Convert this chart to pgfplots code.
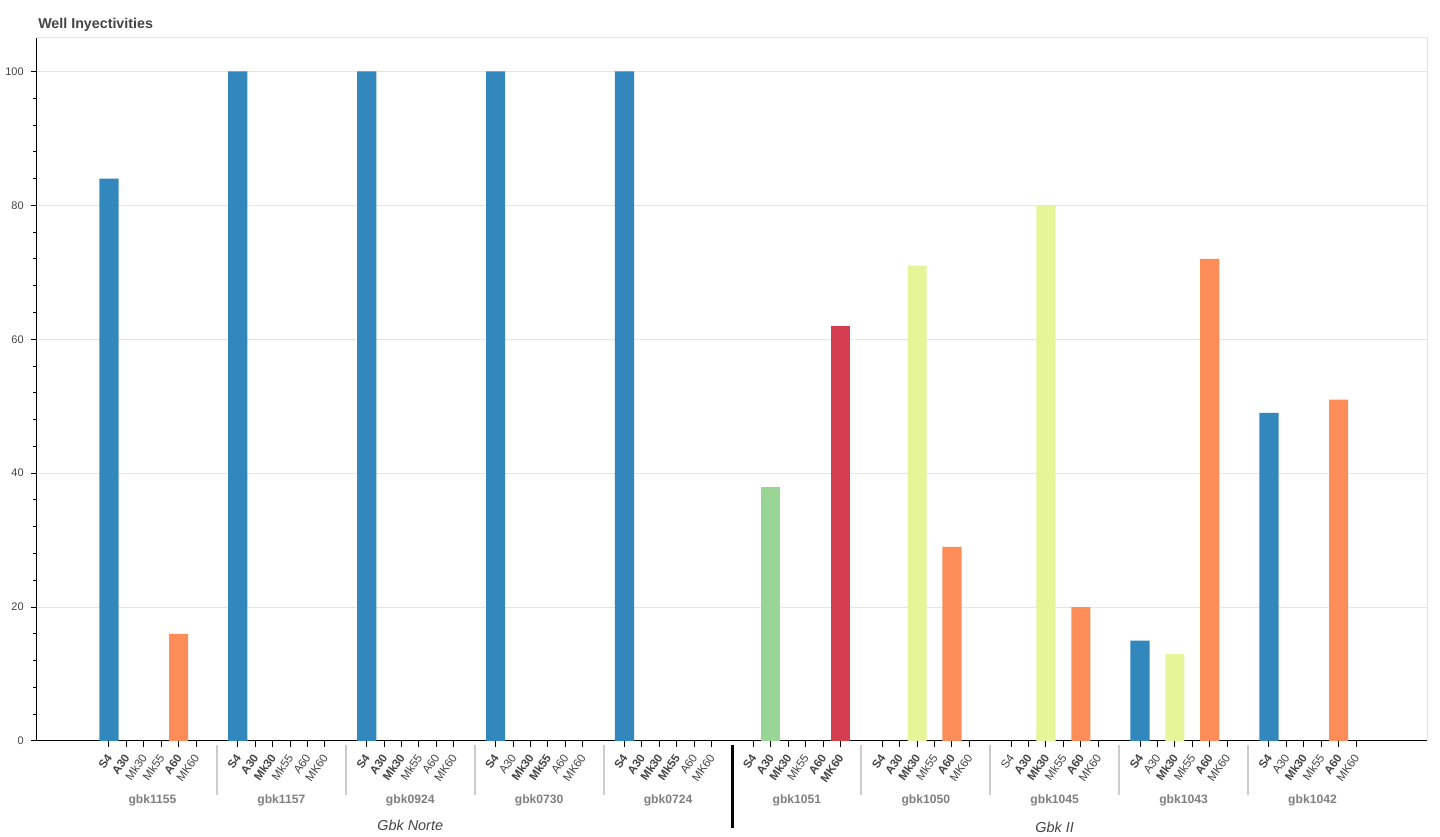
\documentclass[border=0pt]{standalone}
\usepackage{fontspec}
\setmainfont{Liberation Sans}
\usepackage{pgfplots}
\pgfplotsset{compat=1.18}
\definecolor{cS4}{HTML}{3288BD}
\definecolor{cA30}{HTML}{99D594}
\definecolor{cMk30}{HTML}{E6F598}
\definecolor{cA60}{HTML}{FC8D59}
\definecolor{cMK60}{HTML}{D53E4F}
\definecolor{gridgray}{HTML}{E5E5E5}
\definecolor{labgray}{HTML}{444444}
\definecolor{grpgray}{HTML}{7F7F7F}
\definecolor{sepgray}{HTML}{CCCCCC}
\newcommand{\B}[1]{\textbf{#1}}
\begin{document}
\begin{tikzpicture}
\begin{axis}[
  scale only axis, width=1043.25pt, height=527.25pt,
  xmin=-3.63, xmax=76.23, ymin=0, ymax=105,
  axis x line*=bottom, axis y line*=left,
  axis line style={black, line width=0.75pt},
  ytick={0,20,...,100}, minor y tick num=4,
  ymajorgrids, major grid style={color=gridgray, line width=0.75pt},
  xtick={0.5,1.5,2.5,3.5,4.5,5.5,
         7.9,8.9,9.9,10.9,11.9,12.9,
         15.3,16.3,17.3,18.3,19.3,20.3,
         22.7,23.7,24.7,25.7,26.7,27.7,
         30.1,31.1,32.1,33.1,34.1,35.1,
         37.5,38.5,39.5,40.5,41.5,42.5,
         44.9,45.9,46.9,47.9,48.9,49.9,
         52.3,53.3,54.3,55.3,56.3,57.3,
         59.7,60.7,61.7,62.7,63.7,64.7,
         67.1,68.1,69.1,70.1,71.1,72.1},
  xticklabels={\B{S4},\B{A30},Mk30,Mk55,\B{A60},MK60,
               \B{S4},\B{A30},\B{Mk30},Mk55,A60,MK60,
               \B{S4},\B{A30},\B{Mk30},Mk55,A60,MK60,
               \B{S4},A30,\B{Mk30},\B{Mk55},A60,MK60,
               \B{S4},\B{A30},\B{Mk30},\B{Mk55},A60,MK60,
               \B{S4},\B{A30},\B{Mk30},Mk55,\B{A60},\B{MK60},
               \B{S4},\B{A30},\B{Mk30},Mk55,\B{A60},MK60,
               S4,\B{A30},\B{Mk30},Mk55,\B{A60},MK60,
               \B{S4},A30,\B{Mk30},Mk55,\B{A60},MK60,
               \B{S4},A30,\B{Mk30},Mk55,\B{A60},MK60},
  tick align=outside, major tick length=4.5pt, minor tick length=3pt,
  tick style={black, line width=0.75pt},
  x tick label style={yshift=-5.5pt, xshift=1pt, rotate=55, anchor=east, font=\fontsize{8.7}{9}\selectfont, text=labgray, inner sep=1pt},
  y tick label style={font=\fontsize{8.25}{9}\selectfont, text=labgray, xshift=-2pt},
  /pgf/number format/assume math mode=true,
  clip=false,
  bar width=1.1,
  ybar, bar shift=0pt,
]
\addplot[fill=cS4, draw=none] coordinates {(0.5,84) (7.9,100) (15.3,100) (22.7,100) (30.1,100) (59.7,15) (67.1,49)};
\addplot[fill=cA30, draw=none] coordinates {(38.5,38)};
\addplot[fill=cMk30, draw=none] coordinates {(46.9,71) (54.3,80) (61.7,13)};
\addplot[fill=cA60, draw=none] coordinates {(4.5,16) (48.9,29) (56.3,20) (63.7,72) (71.1,51)};
\addplot[fill=cMK60, draw=none] coordinates {(42.5,62)};

\draw[gridgray, line width=0.75pt] (rel axis cs:0,1) -- (rel axis cs:1,1) -- (rel axis cs:1,0);

\tikzset{sep/.style={sepgray, line width=1.5pt}}
\draw[sep] ([yshift=-3pt]axis cs:6.7,0) -- ([yshift=-40.5pt]axis cs:6.7,0);
\draw[sep] ([yshift=-3pt]axis cs:14.1,0) -- ([yshift=-40.5pt]axis cs:14.1,0);
\draw[sep] ([yshift=-3pt]axis cs:21.5,0) -- ([yshift=-40.5pt]axis cs:21.5,0);
\draw[sep] ([yshift=-3pt]axis cs:28.9,0) -- ([yshift=-40.5pt]axis cs:28.9,0);
\draw[sep] ([yshift=-3pt]axis cs:43.7,0) -- ([yshift=-40.5pt]axis cs:43.7,0);
\draw[sep] ([yshift=-3pt]axis cs:51.1,0) -- ([yshift=-40.5pt]axis cs:51.1,0);
\draw[sep] ([yshift=-3pt]axis cs:58.5,0) -- ([yshift=-40.5pt]axis cs:58.5,0);
\draw[sep] ([yshift=-3pt]axis cs:65.9,0) -- ([yshift=-40.5pt]axis cs:65.9,0);
\draw[black, line width=2.25pt] ([yshift=-3pt]axis cs:36.3,0) -- ([yshift=-65.25pt]axis cs:36.3,0);

\tikzset{grp/.style={font=\bfseries\fontsize{9.1}{10}\selectfont, text=grpgray, yshift=-44.5pt}}
\node[grp] at (axis cs:3,0) {gbk1155};
\node[grp] at (axis cs:10.4,0) {gbk1157};
\node[grp] at (axis cs:17.8,0) {gbk0924};
\node[grp] at (axis cs:25.2,0) {gbk0730};
\node[grp] at (axis cs:32.6,0) {gbk0724};
\node[grp] at (axis cs:40,0) {gbk1051};
\node[grp] at (axis cs:47.4,0) {gbk1050};
\node[grp] at (axis cs:54.8,0) {gbk1045};
\node[grp] at (axis cs:62.2,0) {gbk1043};
\node[grp] at (axis cs:69.6,0) {gbk1042};

\node[font=\itshape\fontsize{10.8}{12}\selectfont, text=labgray, yshift=-63pt] at (axis cs:17.8,0) {Gbk Norte};
\node[font=\itshape\fontsize{10.8}{12}\selectfont, text=labgray, yshift=-64.5pt] at (axis cs:54.8,0) {Gbk II};

\node[anchor=base west, font=\bfseries\fontsize{10.7}{12}\selectfont, text=labgray, inner sep=0pt, xshift=0.75pt, yshift=6.75pt] at (rel axis cs:0,1) {Well Inyectivities};
\end{axis}
\path[use as bounding box] (-27.75pt,-71.25pt) rectangle (1052.25pt,555.75pt);
\end{tikzpicture}
\end{document}
